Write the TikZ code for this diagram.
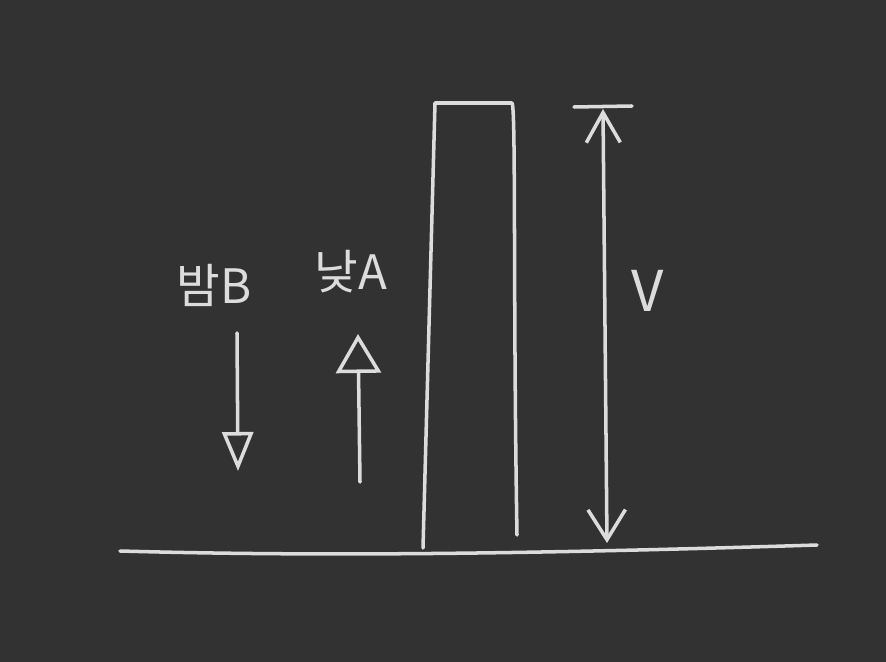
\documentclass[tikz,border=0pt]{standalone}
\usepackage{fontspec}
\newfontfamily\krfont{Noto Sans CJK KR}
\usetikzlibrary{arrows.meta}
\definecolor{board}{HTML}{323232}
\definecolor{chalk}{HTML}{DCDCDC}
\tikzset{
  pen/.style={draw=chalk, line width=2pt, line cap=round, line join=round},
  lbl/.style={text=chalk, font=\krfont\fontsize{27}{30}\selectfont, inner sep=0pt},
  flowdown/.style={pen, -{Triangle[open, length=0.78cm, width=0.62cm, line width=2pt]}},
  flowup/.style={pen, -{Triangle[open, length=0.78cm, width=0.9cm, line width=2pt]}},
  dimline/.style={pen, {Straight Barb[length=0.6cm, width=0.68cm, line width=2pt]}-{Straight Barb[length=0.6cm, width=0.75cm, line width=2pt]}}
}
\begin{document}
\begin{tikzpicture}[x=0.02cm, y=-0.02cm]
        \fill[board] (0,0) rectangle (886,662);
        \useasboundingbox (0,0) rectangle (886,662);

        % ground
        \coordinate (gl) at (120,551);
        \coordinate (gr) at (817,545);
        \draw[pen] (gl) .. controls (300,556) and (500,555) .. (gr);

        % tower
        \coordinate (tbl) at (423,548);
        \coordinate (ttl) at (435,103);
        \coordinate (ttr) at (512,103);
        \coordinate (tbr) at (517,535);
        \draw[pen] (tbl) -- (ttl) -- (ttr) .. controls (516,108) and (513,300) .. (tbr);

        % height V
        \coordinate (vbl) at (574,107);
        \coordinate (vbr) at (632,106);
        \coordinate (vtop) at (603,109);
        \coordinate (vbot) at (607,543);
        \draw[pen] (vbl) -- (vbr);
        \draw[dimline] (vtop) -- (vbot);
        \node[lbl, font=\krfont\fontsize{32}{34}\selectfont] (vlbl) at (648,291) {V};

        % night B
        \node[lbl] (blbl) at (214,285) {밤B};
        \coordinate (bs) at (237,333);
        \coordinate (be) at (238,471);
        \draw[flowdown] (bs) -- (be);

        % day A
        \node[lbl] (albl) at (351,272) {낮A};
        \coordinate (as) at (360,482);
        \coordinate (ae) at (358,334);
        \draw[flowup] (as) -- (ae);
\end{tikzpicture}
\end{document}
